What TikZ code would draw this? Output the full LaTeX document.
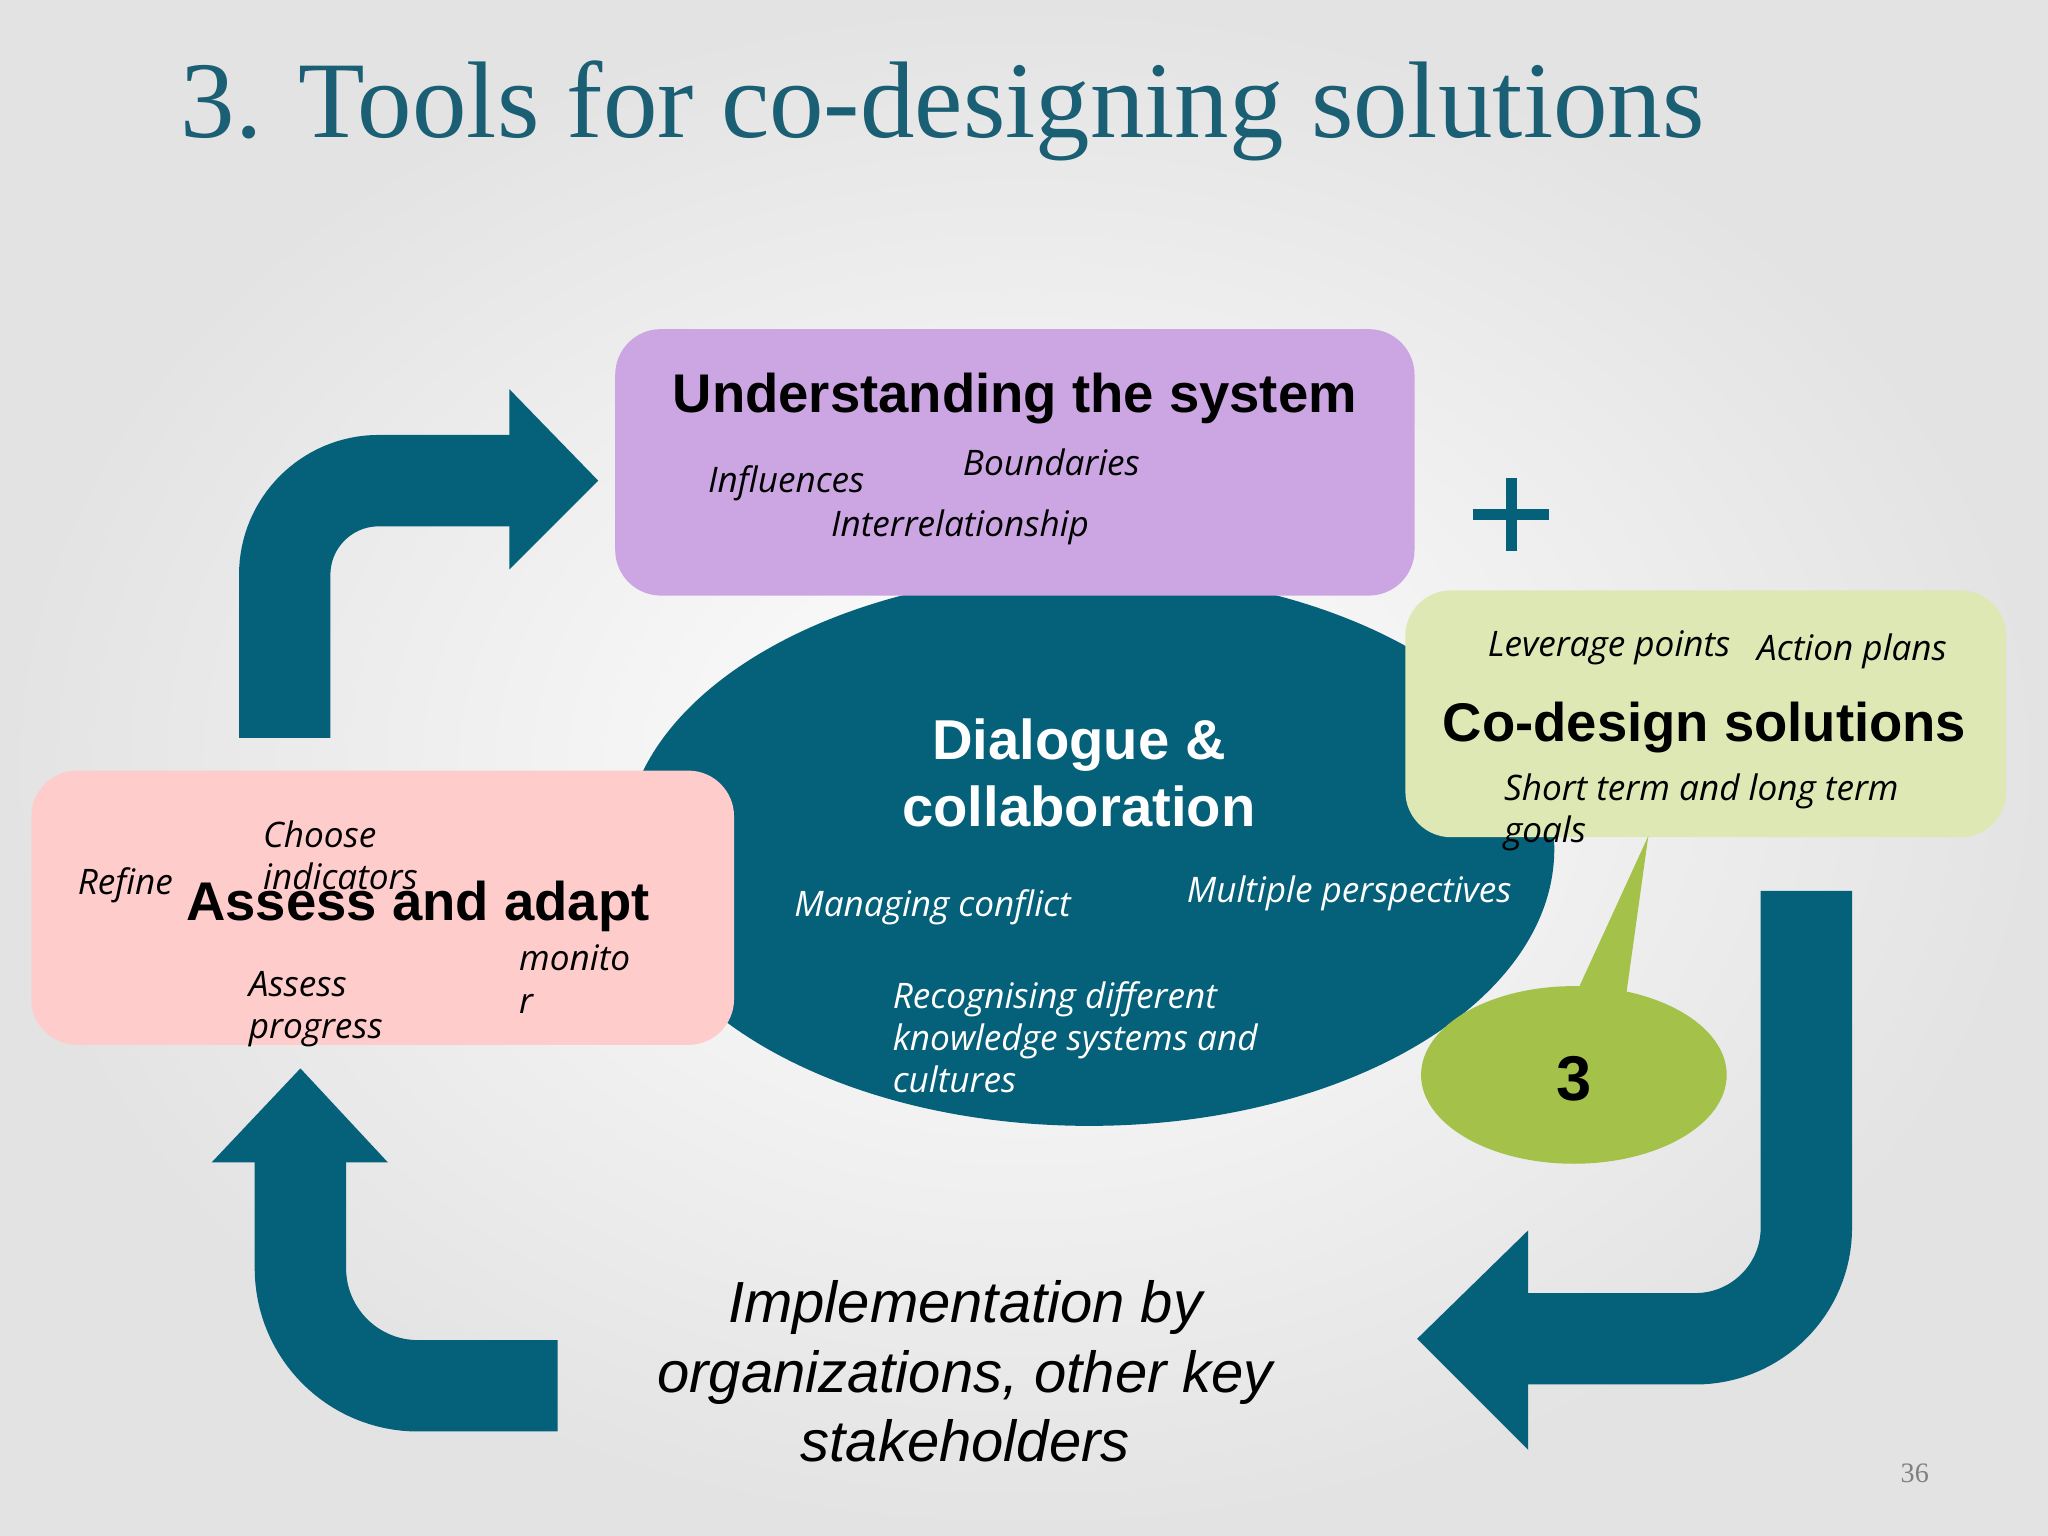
\documentclass[tikz,border=0pt]{standalone}
\usepackage{fontspec}
\setmainfont{Liberation Serif}
\newfontfamily\bsans{Liberation Sans}
\newfontfamily\osans{Open Sans}
\usetikzlibrary{shapes.geometric}
\definecolor{teal1}{HTML}{05607A}
\definecolor{titlec}{HTML}{1B5F74}
\definecolor{purp}{HTML}{CBA6E3}
\definecolor{lgreen}{HTML}{DDE8B4}
\definecolor{pinkb}{HTML}{FFCCCC}
\definecolor{olive}{HTML}{A4C24A}
\tikzset{
 sm/.style={font=\osans\itshape\fontsize{10}{12}\selectfont,align=left},
 bigb/.style={font=\bsans\bfseries\fontsize{15.5}{18}\selectfont},
 shaft/.style={draw=teal1,line width=26pt},
 box/.style={rounded corners=13pt}
}
\begin{document}
\begin{tikzpicture}[x=0.01306cm,y=-0.01306cm]
\shade[inner color=white,outer color=gray!22] (0,0) rectangle (1568,1176);
\useasboundingbox (0,0) rectangle (1568,1176);
\node[anchor=base west,text=titlec,font=\fontsize{31}{36}\selectfont,inner sep=0] (title) at (138,105) {3. Tools for co-designing solutions};
% ellipse
\fill[teal1] (834,650) ellipse [x radius=356,y radius=212];
% boxes
\fill[purp,box] (471,252) rectangle (1083,456);
\fill[lgreen,box] (1076,452) rectangle (1536,641);
\fill[pinkb,box] (24,590) rectangle (562,800);
% plus
\draw[teal1,line width=3.2pt] (1128,394) -- (1186,394) (1157,366) -- (1157,422);
\node (plus) at (1157,394) {};
% callout
\fill[olive] (1207,760) -- (1262,640) -- (1245,762) -- cycle;
\fill[olive] (1205,823) ellipse [x radius=117,y radius=68];
\node[font=\bsans\bfseries\fontsize{18}{20}\selectfont] (three) at (1205,826) {3};
% arrows
\coordinate (a1s) at (218,565); \coordinate (a1e) at (392,368);
\draw[shaft] (a1s) -- (218,440) arc[start angle=180,end angle=270,radius=72] -- (a1e);
\fill[teal1] (390,298) -- (458,368) -- (390,436) -- cycle;
\coordinate (a2s) at (1383,682); \coordinate (a2e) at (1168,1025);
\draw[shaft] (a2s) -- (1383,940) arc[start angle=0,end angle=90,radius=85] -- (a2e);
\fill[teal1] (1170,942) -- (1085,1025) -- (1170,1110) -- cycle;
\coordinate (a3s) at (427,1061); \coordinate (a3e) at (230,888);
\draw[shaft] (a3s) -- (320,1061) arc[start angle=90,end angle=180,radius=90] -- (a3e);
\fill[teal1] (162,890) -- (230,818) -- (297,890) -- cycle;
% texts
\node[bigb] (us) at (777,305) {Understanding the system};
\node[sm] (inf) at (602,370) {Influences};
\node[sm] (bnd) at (805,354) {Boundaries};
\node[sm] (inter) at (735,404) {Interrelationship};
\node[sm] (lev) at (1232,496) {Leverage points};
\node[sm] (act) at (1418,499) {Action plans};
\node[bigb] (cod) at (1305,557) {Co-design solutions};
\node[sm,anchor=north west,inner sep=0] (st) at (1151,592) {Short term and long term\\goals};
\node[bigb,text=white,align=center,font=\bsans\bfseries\fontsize{16}{19}\selectfont] (dc) at (826,592) {Dialogue \&\\collaboration};
\node[sm,text=white] (mc) at (714,695) {Managing conflict};
\node[sm,text=white] (mp) at (1033,684) {Multiple perspectives};
\node[sm,text=white,anchor=north west,inner sep=0] (rec) at (683,751) {Recognising different\\knowledge systems and\\cultures};
\node[sm] (ref) at (96,678) {Refine};
\node[sm,anchor=north west,inner sep=0] (ch) at (201,628) {Choose\\indicators};
\node[bigb] (aa) at (320,694) {Assess and adapt};
\node[sm,anchor=north west,inner sep=0] (mon) at (397,723) {monito\\r};
\node[sm,anchor=north west,inner sep=0] (ap) at (190,743) {Assess\\progress};
\node[align=center,font=\bsans\itshape\fontsize{16.5}{19.7}\selectfont] (impl) at (739,1050) {Implementation by\\organizations, other key\\stakeholders};
\node[text=gray,font=\fontsize{8}{9}\selectfont] (pg) at (1466,1128) {36};
\end{tikzpicture}
\end{document}
